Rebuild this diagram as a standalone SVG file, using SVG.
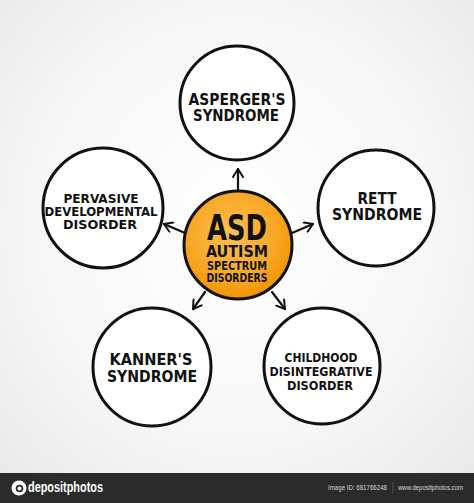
<svg xmlns="http://www.w3.org/2000/svg" width="474" height="503" viewBox="0 0 474 503">
<defs>
<radialGradient id="bg" cx="50%" cy="45%" r="70%">
<stop offset="0" stop-color="#ffffff"/>
<stop offset="0.6" stop-color="#f7f7f7"/>
<stop offset="1" stop-color="#e9e9e9"/>
</radialGradient>
<radialGradient id="orange" cx="45%" cy="40%" r="60%">
<stop offset="0" stop-color="#fcc04f"/>
<stop offset="0.7" stop-color="#f8a623"/>
<stop offset="1" stop-color="#f29400"/>
</radialGradient>
<marker id="arr" viewBox="0 0 12 12" refX="10" refY="6" markerWidth="12" markerHeight="12" markerUnits="userSpaceOnUse" orient="auto">
<path d="M2,1 L10,6 L2,11" fill="none" stroke="#111" stroke-width="2" stroke-linecap="round" stroke-linejoin="round"/>
</marker>
</defs>
<style>
.ring{fill:#ffffff;stroke:#111;stroke-width:3}
.hub{fill:url(#orange);stroke:#111;stroke-width:3}
.lbl{font-family:"DejaVu Sans Condensed","DejaVu Sans",sans-serif;font-weight:bold;fill:#111;text-anchor:middle}
.con{stroke:#111;stroke-width:2.2;fill:none;stroke-linecap:round;marker-end:url(#arr)}
.foot{font-family:"Liberation Sans",Arial,sans-serif;fill:#d8d8d8}
</style>
<rect x="0" y="0" width="474" height="503" fill="url(#bg)"/>

<g id="connectors">
<line class="con" x1="238" y1="192" x2="238" y2="169"/>
<line class="con" x1="185" y1="233" x2="164" y2="224"/>
<line class="con" x1="292" y1="233" x2="313" y2="224"/>
<line class="con" x1="205" y1="292" x2="193" y2="309"/>
<line class="con" x1="272" y1="292" x2="285" y2="309"/>
</g>

<g id="asd">
<circle class="hub" cx="238" cy="245" r="54"/>
<text class="lbl" x="237" y="240" font-size="36" textLength="60" lengthAdjust="spacingAndGlyphs">ASD</text>
<text class="lbl" x="237" y="257" font-size="15.5" textLength="62" lengthAdjust="spacingAndGlyphs">AUTISM</text>
<text class="lbl" x="237" y="270" font-size="12" textLength="60" lengthAdjust="spacingAndGlyphs">SPECTRUM</text>
<text class="lbl" x="237" y="282" font-size="12" textLength="61" lengthAdjust="spacingAndGlyphs">DISORDERS</text>
</g>

<g id="asperger">
<circle class="ring" cx="237" cy="103" r="57"/>
<text class="lbl" x="237" y="105" font-size="16" textLength="97" lengthAdjust="spacingAndGlyphs">ASPERGER'S</text>
<text class="lbl" x="236" y="121" font-size="16" textLength="86" lengthAdjust="spacingAndGlyphs">SYNDROME</text>
</g>

<g id="pervasive">
<circle class="ring" cx="103" cy="208" r="60"/>
<text class="lbl" x="101" y="203" font-size="13" textLength="75" lengthAdjust="spacingAndGlyphs">PERVASIVE</text>
<text class="lbl" x="101" y="216" font-size="13" textLength="113" lengthAdjust="spacingAndGlyphs">DEVELOPMENTAL</text>
<text class="lbl" x="100" y="229" font-size="13" textLength="74" lengthAdjust="spacingAndGlyphs">DISORDER</text>
</g>

<g id="rett">
<circle class="ring" cx="376" cy="208" r="58"/>
<text class="lbl" x="377" y="204" font-size="16" textLength="39" lengthAdjust="spacingAndGlyphs">RETT</text>
<text class="lbl" x="377" y="220" font-size="16" textLength="90" lengthAdjust="spacingAndGlyphs">SYNDROME</text>
</g>

<g id="kanner">
<circle class="ring" cx="152" cy="367" r="59"/>
<text class="lbl" x="151" y="365" font-size="16" textLength="83" lengthAdjust="spacingAndGlyphs">KANNER'S</text>
<text class="lbl" x="152" y="382" font-size="16" textLength="90" lengthAdjust="spacingAndGlyphs">SYNDROME</text>
</g>

<g id="childhood">
<circle class="ring" cx="322" cy="366" r="58"/>
<text class="lbl" x="321" y="362" font-size="13" textLength="73" lengthAdjust="spacingAndGlyphs">CHILDHOOD</text>
<text class="lbl" x="321" y="376" font-size="13" textLength="103" lengthAdjust="spacingAndGlyphs">DISINTEGRATIVE</text>
<text class="lbl" x="320" y="390" font-size="13" textLength="66" lengthAdjust="spacingAndGlyphs">DISORDER</text>
</g>

<g id="footer">
<rect x="0" y="473" width="474" height="30" fill="#2b2b2b"/>
<circle cx="19" cy="488" r="7.5" fill="#ffffff"/>
<circle cx="19.5" cy="488.5" r="3.8" fill="#2b2b2b"/>
<circle cx="19.5" cy="488.5" r="2" fill="#ffffff"/>
<text x="28" y="492" font-family="'Liberation Sans',Arial,sans-serif" font-weight="bold" font-size="14" fill="#ffffff" textLength="75" lengthAdjust="spacingAndGlyphs">depositphotos</text>
<text class="foot" x="328" y="490" font-size="7" textLength="59" lengthAdjust="spacingAndGlyphs">Image ID: 681766248</text>
<line x1="393" y1="482" x2="393" y2="493" stroke="#555" stroke-width="0.8"/>
<text class="foot" x="398" y="490" font-size="7" textLength="65" lengthAdjust="spacingAndGlyphs">www.depositphotos.com</text>
</g>
</svg>
